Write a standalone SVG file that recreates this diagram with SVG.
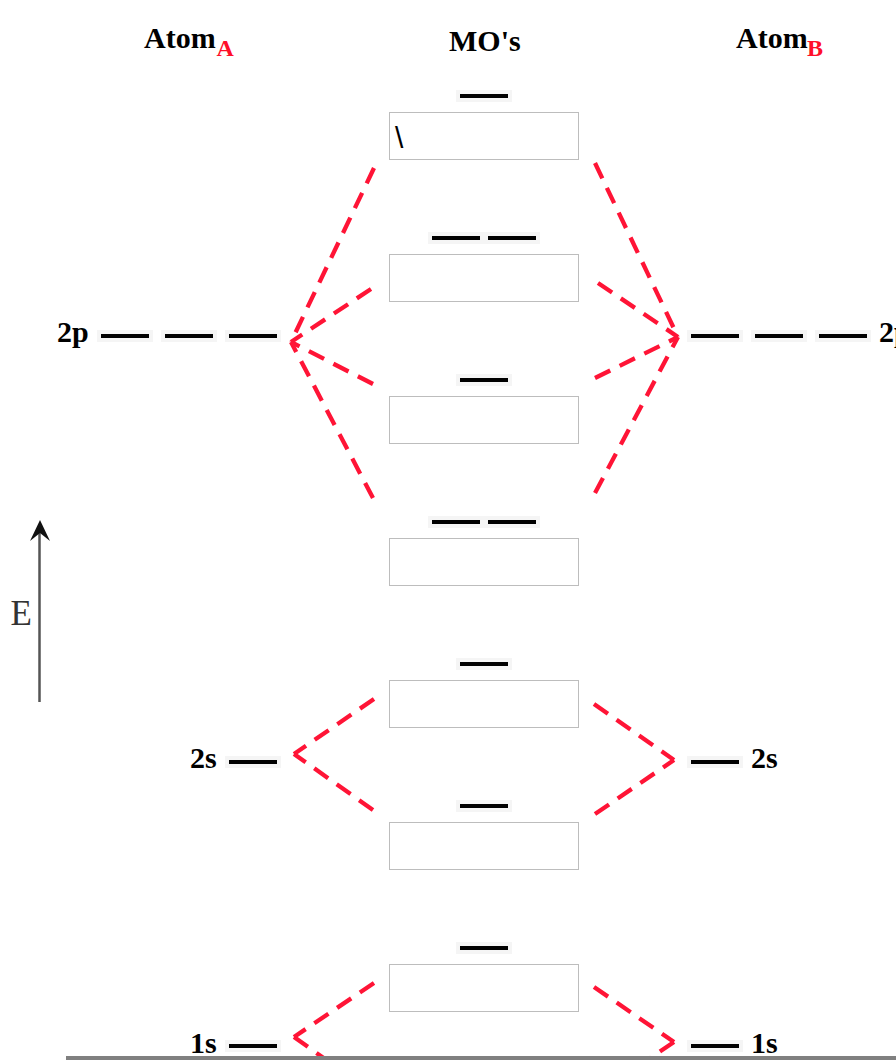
<svg xmlns="http://www.w3.org/2000/svg" width="896" height="1060" viewBox="0 0 896 1060">
<style>
.t{font-family:"Liberation Serif","Times New Roman",serif;font-weight:bold;font-size:30px;fill:#000}
.s{font-family:"Liberation Serif","Times New Roman",serif;font-weight:bold;font-size:24px;fill:#ff0f2a}
.bg{fill:#f5f5f5}
.lv{fill:none;stroke:#000;stroke-width:4}
.box{fill:#fff;stroke:#bdbdbd;stroke-width:1}
.d{fill:none;stroke:#ff1436;stroke-width:4.300;stroke-dasharray:17 10.5}
</style>
<defs>
<g id="lvl"><rect class="bg" x="-4" y="-6" width="56" height="12"/><line class="lv" x1="0" y1="0" x2="48" y2="0"/></g>
</defs>
<rect width="896" height="1060" fill="#fff"/>
<g id="connectors">
<line class="d" x1="374" y1="168" x2="291" y2="342"/>
<line class="d" x1="371" y1="289" x2="291" y2="342"/>
<line class="d" x1="373" y1="384" x2="291" y2="342"/>
<line class="d" x1="373" y1="498" x2="291" y2="342"/>
<line class="d" x1="595" y1="163" x2="678" y2="337"/>
<line class="d" x1="598" y1="283" x2="678" y2="337"/>
<line class="d" x1="595" y1="378" x2="678" y2="337"/>
<line class="d" x1="595" y1="493" x2="678" y2="337"/>
<line class="d" x1="374" y1="699" x2="294" y2="754"/>
<line class="d" x1="373" y1="810" x2="294" y2="754"/>
<line class="d" x1="594" y1="704" x2="674" y2="760"/>
<line class="d" x1="595" y1="814" x2="674" y2="760"/>
<line class="d" x1="374" y1="983" x2="294" y2="1037"/>
<line class="d" x1="294" y1="1037" x2="325" y2="1059"/>
<line class="d" x1="594" y1="987" x2="674" y2="1042"/>
<line class="d" x1="674" y1="1042" x2="646" y2="1061"/>
<line x1="39.500" y1="702" x2="39.500" y2="528" stroke="#555" stroke-width="2.500"/>
<path d="M40 520L50 541L40 533L30 541Z" fill="#111"/>
</g>
<g id="title-a"><text class="t" x="144" y="48">Atom</text><text class="s" x="216.500" y="56">A</text></g>
<g id="title-mo"><text class="t" x="449" y="51">MO's</text></g>
<g id="title-b"><text class="t" x="736" y="48">Atom</text><text class="s" x="807" y="56">B</text></g>
<g id="a-2p"><text class="t" x="57" y="341.500">2p</text><use href="#lvl" x="101" y="336"/><use href="#lvl" x="165" y="336"/><use href="#lvl" x="229" y="336"/></g>
<g id="b-2p"><use href="#lvl" x="691" y="336"/><use href="#lvl" x="755" y="336"/><use href="#lvl" x="819" y="336"/><text class="t" x="879" y="341.500">2p</text></g>
<g id="a-2s"><text class="t" x="190" y="768">2s</text><use href="#lvl" x="229" y="762"/></g>
<g id="b-2s"><use href="#lvl" x="691" y="762"/><text class="t" x="751" y="768">2s</text></g>
<g id="a-1s"><text class="t" x="190" y="1052.500">1s</text><use href="#lvl" x="229" y="1046"/></g>
<g id="b-1s"><use href="#lvl" x="691" y="1046"/><text class="t" x="751" y="1052.500">1s</text></g>
<g id="mo-1"><use href="#lvl" x="460" y="96"/><rect class="box" x="389.500" y="112.500" width="189" height="47"/><text x="395" y="148" font-family="Liberation Sans, Arial, sans-serif" font-size="30" fill="#000">\</text></g>
<g id="mo-2"><use href="#lvl" x="432" y="238"/><use href="#lvl" x="488" y="238"/><rect class="box" x="389.500" y="254.500" width="189" height="47"/></g>
<g id="mo-3"><use href="#lvl" x="460" y="380"/><rect class="box" x="389.500" y="396.500" width="189" height="47"/></g>
<g id="mo-4"><use href="#lvl" x="432" y="522"/><use href="#lvl" x="488" y="522"/><rect class="box" x="389.500" y="538.500" width="189" height="47"/></g>
<g id="mo-5"><use href="#lvl" x="460" y="664"/><rect class="box" x="389.500" y="680.500" width="189" height="47"/></g>
<g id="mo-6"><use href="#lvl" x="460" y="806"/><rect class="box" x="389.500" y="822.500" width="189" height="47"/></g>
<g id="mo-7"><use href="#lvl" x="460" y="948"/><rect class="box" x="389.500" y="964.500" width="189" height="47"/></g>
<g id="energy-label"><text x="10.500" y="625" font-family="Liberation Serif, Times New Roman, serif" font-size="35" fill="#333">E</text></g>
<rect id="baseline" x="66" y="1056" width="830" height="4" fill="#808080"/>
</svg>
